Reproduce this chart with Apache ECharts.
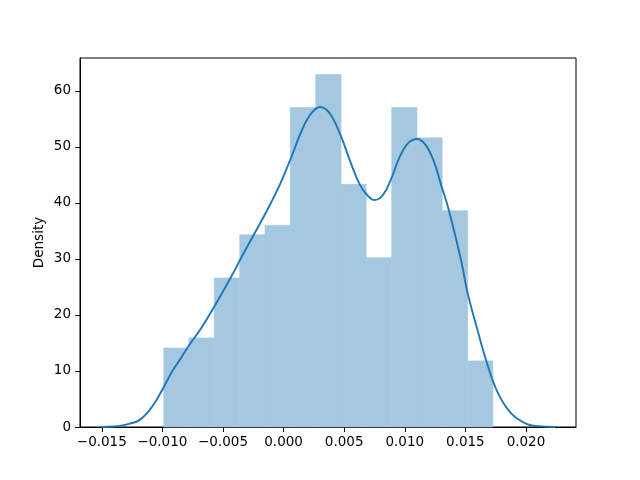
<!DOCTYPE html>
<html>
<head>
<meta charset="utf-8">
<script src="https://cdn.jsdelivr.net/npm/echarts@6/dist/echarts.min.js"></script>
<style>html,body{margin:0;padding:0;background:#fff}#c{width:640px;height:480px}</style>
</head>
<body>
<div id="c"></div>
<script>
// Histogram bin edges and heights (density)
var binEdges = [-0.00989, -0.00781, -0.00572, -0.00362, -0.00153, 0.00055, 0.00265, 0.00474, 0.00682, 0.00892, 0.01101, 0.01309, 0.01519, 0.01727];
var binHeights = [14.1, 15.9, 26.6, 34.3, 36.0, 57.0, 62.9, 43.3, 30.2, 57.0, 51.6, 38.6, 11.8];
// KDE curve points
var kdeX = [-0.0150, -0.0140, -0.0133, -0.0127, -0.0120, -0.0113, -0.0106, -0.0099, -0.0092, -0.0085, -0.0077, -0.0069, -0.0058, -0.0044, -0.0033, -0.0014, -0.0003, 0.0005, 0.0016, 0.0023, 0.0030, 0.0038, 0.0047, 0.0055, 0.0063, 0.0069, 0.0075, 0.0082, 0.0089, 0.0096, 0.0103, 0.0110, 0.0117, 0.0124, 0.0130, 0.0136, 0.0146, 0.0152, 0.0160, 0.0168, 0.0177, 0.0188, 0.0201, 0.0210, 0.0224];
var kdeY = [0.0, 0.1, 0.3, 0.6, 1.1, 2.4, 4.4, 7.1, 9.9, 12.2, 14.9, 17.3, 21.2, 26.5, 31.0, 38.5, 43.3, 47.4, 53.4, 56.0, 57.1, 56.0, 52.1, 47.4, 43.2, 41.4, 40.5, 41.4, 44.4, 48.3, 50.7, 51.4, 50.4, 47.4, 43.2, 39.0, 30.2, 23.8, 17.3, 11.3, 6.0, 2.4, 0.5, 0.15, 0.0];
var xTicks = [-0.015, -0.010, -0.005, 0.000, 0.005, 0.010, 0.015, 0.020];
var yTicks = [0, 10, 20, 30, 40, 50, 60];

var histData = binHeights.map(function (h, i) { return [binEdges[i], binEdges[i + 1], h]; });
var kdeData = kdeX.map(function (x, i) { return [x, kdeY[i]]; });

var chart = echarts.init(document.getElementById('c'), null, {renderer: 'canvas'});
var font = 'DejaVu Sans';
chart.setOption({
  animation: false,
  grid: {left: 80, right: 64, top: 58, bottom: 53, show: true, borderColor: '#000', borderWidth: 1, backgroundColor: 'transparent'},
  xAxis: {
    type: 'value', min: -0.0168, max: 0.02413,
    splitLine: {show: false},
    axisLine: {show: true, onZero: false, lineStyle: {color: '#000', width: 1}},
    axisTick: {show: true, length: 5, lineStyle: {color: '#000'}, customValues: xTicks},
    axisLabel: {color: '#000', fontFamily: font, fontSize: 13.5, margin: 8, customValues: xTicks,
      formatter: function (v) { return v.toFixed(3).replace('-', '\u2212'); }}
  },
  yAxis: {
    type: 'value', min: 0, max: 65.85,
    name: 'Density', nameLocation: 'middle', nameGap: 34, nameMoveOverlap: false,
    nameTextStyle: {color: '#000', fontFamily: font, fontSize: 13.5},
    splitLine: {show: false},
    axisLine: {show: true, onZero: false, lineStyle: {color: '#000', width: 1}},
    axisTick: {show: true, length: 5, lineStyle: {color: '#000'}, customValues: yTicks},
    axisLabel: {color: '#000', fontFamily: font, fontSize: 13.5, margin: 9, customValues: yTicks}
  },
  series: [
    {
      type: 'custom',
      data: histData,
      encode: {x: [0, 1], y: 2},
      renderItem: function (params, api) {
        var p0 = api.coord([api.value(0), api.value(2)]);
        var p1 = api.coord([api.value(1), 0]);
        return {
          type: 'rect',
          shape: {x: p0[0], y: p0[1], width: p1[0] - p0[0], height: p1[1] - p0[1]},
          style: {fill: '#a5c8e1', stroke: '#a5c8e1', lineWidth: 0.6}
        };
      }
    },
    {
      type: 'line',
      data: kdeData,
      smooth: 0.4,
      showSymbol: false,
      lineStyle: {color: '#1f77b4', width: 1.9},
      z: 5
    }
  ]
});
</script>
</body>
</html>
